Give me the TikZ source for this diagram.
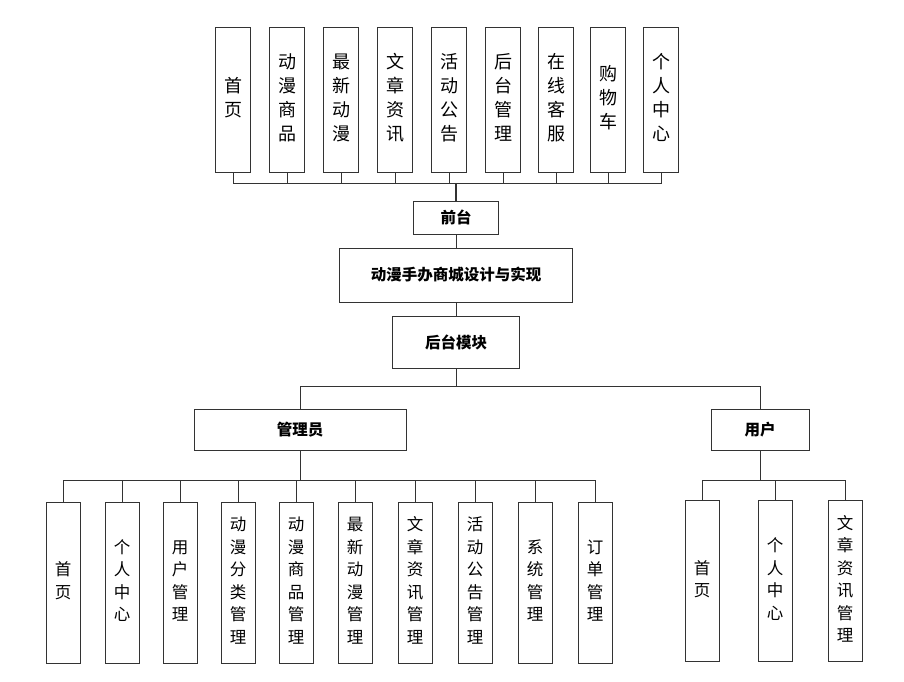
\documentclass[tikz,border=0pt]{standalone}
\usepackage{fontspec}
\setmainfont{Noto Sans CJK SC}
\usetikzlibrary{positioning}
\newcommand{\vtext}[1]{\begin{tabular}{@{}c@{}}#1\end{tabular}}

\begin{document}
\begin{tikzpicture}[
    x=1pt, y=-1pt,
    box/.style={
        draw=black!80,
        fill=white,
        inner sep=0pt,
        align=center,
        line width=0.8pt
    },
    tbox/.style={box, minimum width=35pt, minimum height=145pt, font=\fontsize{18}{24}\selectfont},
    bbox/.style={box, minimum width=34pt, minimum height=161pt, font=\fontsize{16.5}{22.5}\selectfont},
    mbox/.style={box, font=\fontsize{15.5}{17}\selectfont\bfseries},
    link/.style={draw=black!80, line width=0.8pt}
]
    \useasboundingbox (0,0) rectangle (904,682);

    % --- top modules ---
    \node[tbox] (t1) at (233,100) {\vtext{首\\页}};
    \node[tbox] (t2) at (287,100) {\vtext{动\\漫\\商\\品}};
    \node[tbox] (t3) at (341,100) {\vtext{最\\新\\动\\漫}};
    \node[tbox] (t4) at (395,100) {\vtext{文\\章\\资\\讯}};
    \node[tbox] (t5) at (449,100) {\vtext{活\\动\\公\\告}};
    \node[tbox] (t6) at (503,100) {\vtext{后\\台\\管\\理}};
    \node[tbox] (t7) at (556,100) {\vtext{在\\线\\客\\服}};
    \node[tbox] (t8) at (608,100) {\vtext{购\\物\\车}};
    \node[tbox] (t9) at (661,100) {\vtext{个\\人\\中\\心}};

    % --- centre column ---
    \node[mbox, minimum width=85pt, minimum height=33pt] (front) at (456,217.5) {前台};
    \node[mbox, minimum width=233pt, minimum height=54pt] (sys) at (456,275) {动漫手办商城设计与实现};
    \node[mbox, minimum width=127pt, minimum height=52pt] (back) at (456,342) {后台模块};
    \node[mbox, minimum width=212pt, minimum height=41pt] (admin) at (300,429.5) {管理员};
    \node[mbox, minimum width=98pt, minimum height=41pt] (user) at (760,429.5) {用户};

    % --- admin modules ---
    \node[bbox] (a1) at (63,582.5) {\vtext{首\\页}};
    \node[bbox] (a2) at (122,582.5) {\vtext{个\\人\\中\\心}};
    \node[bbox] (a3) at (180,582.5) {\vtext{用\\户\\管\\理}};
    \node[bbox] (a4) at (238,582.5) {\vtext{动\\漫\\分\\类\\管\\理}};
    \node[bbox] (a5) at (296,582.5) {\vtext{动\\漫\\商\\品\\管\\理}};
    \node[bbox] (a6) at (355,582.5) {\vtext{最\\新\\动\\漫\\管\\理}};
    \node[bbox] (a7) at (415,582.5) {\vtext{文\\章\\资\\讯\\管\\理}};
    \node[bbox] (a8) at (475,582.5) {\vtext{活\\动\\公\\告\\管\\理}};
    \node[bbox] (a9) at (535,582.5) {\vtext{系\\统\\管\\理}};
    \node[bbox] (a10) at (595,582.5) {\vtext{订\\单\\管\\理}};

    % --- user modules ---
    \node[bbox] (u1) at (702,581) {\vtext{首\\页}};
    \node[bbox] (u2) at (775,581) {\vtext{个\\人\\中\\心}};
    \node[bbox] (u3) at (845,581) {\vtext{文\\章\\资\\讯\\管\\理}};

    % --- bus coordinates ---
    \coordinate (busT) at (456,183);
    \coordinate (busB) at (456,386);
    \coordinate (busA) at (300,480);
    \coordinate (busU) at (760,480);

    % --- connectors ---
    \foreach \i in {1,...,9}
        \draw[link] (t\i.south) |- (busT);
    \draw[link, line width=1.6pt] (busT) -- (front.north);
    \draw[link] (front.south) -- (sys.north);
    \draw[link] (sys.south) -- (back.north);
    \draw[link] (back.south) -- (busB);
    \draw[link] (busB) -| (admin.north);
    \draw[link] (busB) -| (user.north);
    \draw[link] (admin.south) -- (busA);
    \foreach \i in {1,...,10}
        \draw[link] (a\i.north) |- (busA);
    \draw[link] (user.south) -- (busU);
    \foreach \i in {1,...,3}
        \draw[link] (u\i.north) |- (busU);
\end{tikzpicture}
\end{document}
